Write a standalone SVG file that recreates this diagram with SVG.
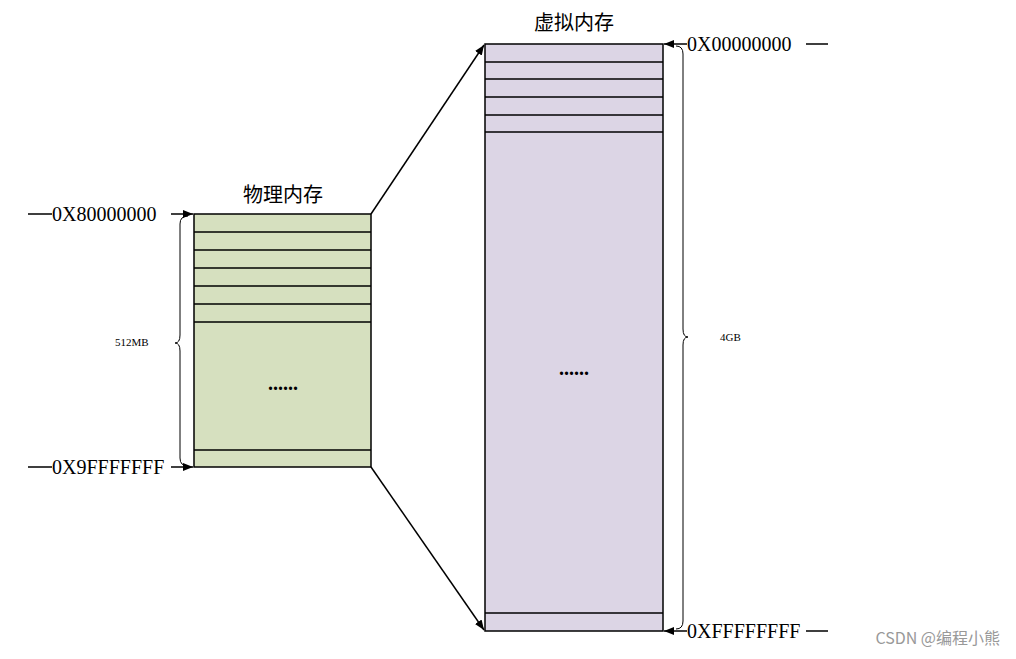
<svg xmlns="http://www.w3.org/2000/svg" width="1016" height="659" viewBox="0 0 1016 659">
<defs><marker id="ah" markerWidth="10" markerHeight="8" refX="10" refY="4" orient="auto" markerUnits="userSpaceOnUse"><path d="M0,0L10,4L0,8z" fill="#000"/></marker></defs>
<style>
.box{stroke:#000;stroke-width:1.5}
.ln{stroke:#000;stroke-width:1.5}
.lab{font-family:"Liberation Serif",serif;font-size:20px}
.cj{font-family:"Noto Sans CJK SC",sans-serif;font-size:20px}
.sm{font-family:"Liberation Serif",serif;font-size:11px}
.br{fill:none;stroke:#000;stroke-width:1}
</style>
<rect width="1016" height="659" fill="#fff"/>
<g id="phys">
<rect class="box" x="194" y="214" width="177" height="253" fill="#d6e0bf"/>
<path class="ln" d="M194 232H371M194 250H371M194 268H371M194 286H371M194 304H371M194 322H371M194 450H371"/>
<text class="lab" x="283" y="390" text-anchor="middle" font-weight="bold">......</text>
<text class="cj" x="283" y="202" text-anchor="middle">物理内存</text>
</g>
<g id="virt">
<rect class="box" x="485" y="44" width="178" height="587" fill="#dcd5e5"/>
<path class="ln" d="M485 62H663M485 79H663M485 97H663M485 115H663M485 132H663M485 613H663"/>
<text class="lab" x="574" y="375" text-anchor="middle" font-weight="bold">......</text>
<text class="cj" x="574" y="30" text-anchor="middle">虚拟内存</text>
</g>
<g id="labels">
<text class="lab" x="52" y="221">0X80000000</text>
<text class="lab" x="52" y="474">0X9FFFFFFF</text>
<text class="lab" x="687" y="51">0X00000000</text>
<text class="lab" x="687" y="638">0XFFFFFFFF</text>
<text class="sm" x="115" y="346">512MB</text>
<text class="sm" x="720" y="341">4GB</text>
<text x="1000" y="644" text-anchor="end" font-family="Noto Sans CJK SC,sans-serif" font-size="16" fill="#999">CSDN @编程小熊</text>
</g>
<g id="connectors">
<path class="ln" d="M28 214H52M28 467H52M806 44H828M806 631H828"/>
<path class="ln" d="M171 214H193" marker-end="url(#ah)"/>
<path class="ln" d="M171 467H193" marker-end="url(#ah)"/>
<path class="ln" d="M687 44H664" marker-end="url(#ah)"/>
<path class="ln" d="M687 631H664" marker-end="url(#ah)"/>
<path class="ln" d="M371 214L484 45" marker-end="url(#ah)"/>
<path class="ln" d="M371 467L484 630" marker-end="url(#ah)"/>
<path class="br" d="M188 216Q180 216 180 224V335Q180 343 175 343Q180 343 180 351V458Q180 466 188 466"/>
<path class="br" d="M676 46Q683 46 683 54V329Q683 337 688 337Q683 337 683 345V621Q683 629 676 629"/>
</g>
</svg>
